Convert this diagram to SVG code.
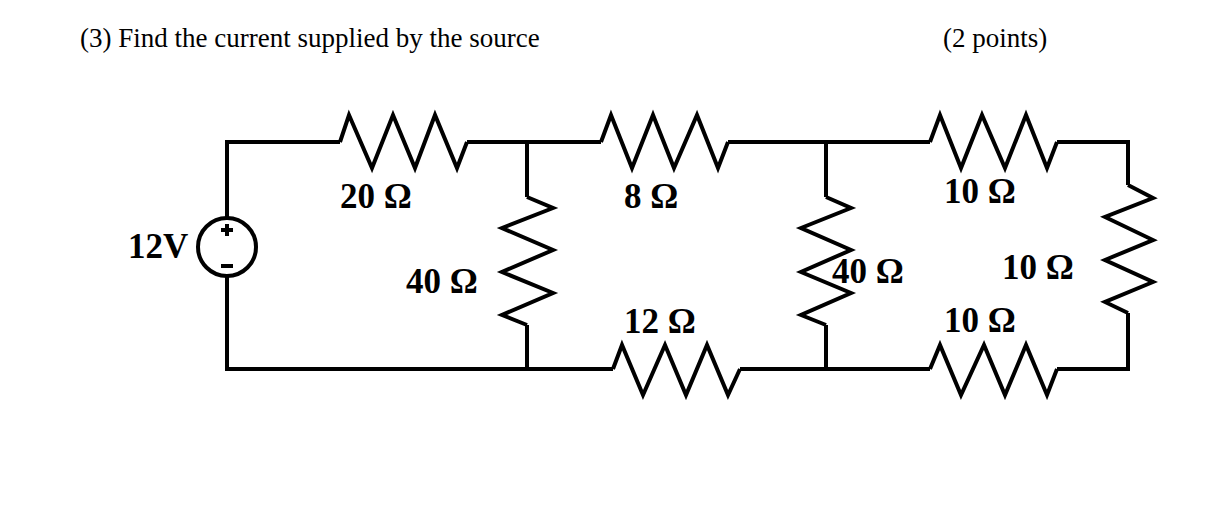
<svg xmlns="http://www.w3.org/2000/svg" width="1222" height="510" viewBox="0 0 1222 510">
<style>
.w{fill:none;stroke:#000;stroke-width:4;stroke-linejoin:miter}
.t{font-family:"Liberation Serif",serif;font-size:27px;fill:#000}
.l{font-family:"Liberation Serif",serif;font-size:35px;font-weight:bold;fill:#000}
</style>
<rect width="1222" height="510" fill="#fff"/>
<text class="t" x="80" y="47">(3) Find the current supplied by the source</text>
<text class="t" x="943" y="47">(2 points)</text>
<g id="connectors">
<polyline class="w" points="227,218 227,142 340,142"/>
<polyline class="w" points="467,142 601,142"/>
<polyline class="w" points="728,142 930,142"/>
<polyline class="w" points="1057,142 1128,142 1128,185"/>
<polyline class="w" points="1128,313 1128,369 1057,369"/>
<polyline class="w" points="930,369 740,369"/>
<polyline class="w" points="613,369 227,369 227,276"/>
<line class="w" x1="527" y1="142" x2="527" y2="197"/>
<line class="w" x1="527" y1="325" x2="527" y2="369"/>
<line class="w" x1="826" y1="142" x2="826" y2="197"/>
<line class="w" x1="826" y1="325" x2="826" y2="369"/>
</g>
<g id="source">
<circle class="w" cx="227" cy="247" r="29"/>
<path class="w" d="M227,224v12M221,230h12M221,266h12" stroke-width="3"/>
<text class="l" x="128" y="258">12V</text>
</g>
<g id="r20">
<polyline class="w" points="340,142 349,115 372,168 393,115 415,168 435,115 457,168 467,142"/>
<text class="l" x="340" y="208">20 Ω</text>
</g>
<g id="r40a">
<polyline class="w" points="527,197 553,208 502,228 553,250 502,272 553,293 502,315 527,325"/>
<text class="l" x="406" y="293">40 Ω</text>
</g>
<g id="r8">
<polyline class="w" points="601,142 611,115 632,168 653,115 674,168 697,115 718,168 728,142"/>
<text class="l" x="624" y="208">8 Ω</text>
</g>
<g id="r12">
<polyline class="w" points="613,369 622,345 643,395 665,345 686,395 707,345 728,395 740,369"/>
<text class="l" x="624" y="333">12 Ω</text>
</g>
<g id="r40b">
<polyline class="w" points="826,197 851,208 801,228 851,250 801,272 851,293 801,315 826,325"/>
<text class="l" x="832" y="283">40 Ω</text>
</g>
<g id="r10top">
<polyline class="w" points="930,142 940,115 961,168 982,115 1005,168 1026,115 1047,168 1057,142"/>
<text class="l" x="944" y="203">10 Ω</text>
</g>
<g id="r10right">
<polyline class="w" points="1128,185 1153,198 1105,217 1153,240 1105,260 1153,282 1105,302 1128,313"/>
<text class="l" x="1002" y="279">10 Ω</text>
</g>
<g id="r10bot">
<polyline class="w" points="930,369 940,345 961,395 984,345 1005,395 1026,345 1047,395 1057,369"/>
<text class="l" x="944" y="332">10 Ω</text>
</g>
</svg>
